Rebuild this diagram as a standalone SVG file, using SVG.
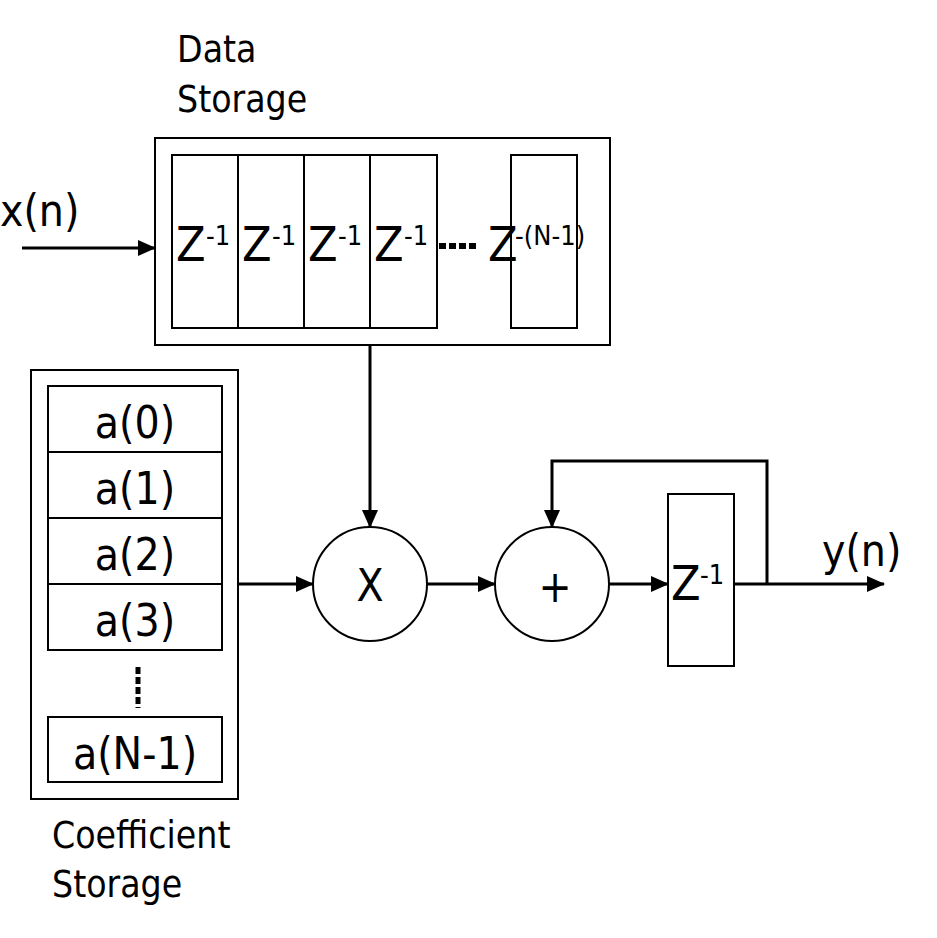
<svg xmlns="http://www.w3.org/2000/svg" width="937" height="938" viewBox="0 0 937 938">
<defs>
<style>
text{font-family:"DejaVu Sans Condensed","DejaVu Sans","Noto Sans",sans-serif;fill:#000}
.b{fill:#fff;stroke:#000;stroke-width:2}
.l{fill:none;stroke:#000;stroke-width:3}
.z{font-size:48px}
.s{font-size:27px}
.a{font-size:44px;text-anchor:middle}
.lab{font-size:37px}
</style>
<marker id="ar" markerWidth="18" markerHeight="16" refX="17" refY="8" orient="auto" markerUnits="userSpaceOnUse">
<path d="M0,0 L18,8 L0,16 Z" fill="#000"/>
</marker>
</defs>
<rect width="937" height="938" fill="#fff"/>
<g id="labels">
<text class="lab" x="177" y="62">Data</text>
<text class="lab" x="177" y="112">Storage</text>
<text class="lab" x="52" y="848">Coefficient</text>
<text class="lab" x="52" y="897">Storage</text>
<text x="0" y="226" font-size="44">x(n)</text>
<text x="822" y="566" font-size="44">y(n)</text>
</g>
<g id="data-storage">
<rect class="b" x="155" y="138" width="455" height="207"/>
<rect class="b" x="172" y="155" width="265" height="173"/>
<line x1="238" y1="155" x2="238" y2="328" stroke="#000" stroke-width="2"/>
<line x1="304" y1="155" x2="304" y2="328" stroke="#000" stroke-width="2"/>
<line x1="370" y1="155" x2="370" y2="328" stroke="#000" stroke-width="2"/>
<rect class="b" x="511" y="155" width="66" height="173"/>
<text class="z" x="176" y="261">Z</text><text class="s" x="206" y="245">-1</text>
<text class="z" x="242" y="261">Z</text><text class="s" x="272" y="245">-1</text>
<text class="z" x="308" y="261">Z</text><text class="s" x="338" y="245">-1</text>
<text class="z" x="374" y="261">Z</text><text class="s" x="404" y="245">-1</text>
<line x1="439" y1="246" x2="478" y2="246" stroke="#000" stroke-width="6" stroke-dasharray="7,3"/>
<text class="z" x="488" y="261">Z</text><text class="s" x="515" y="245">-(N-1)</text>
</g>
<g id="coef-storage">
<rect class="b" x="31" y="370" width="207" height="429"/>
<rect class="b" x="48" y="386" width="174" height="264"/>
<line x1="48" y1="452" x2="222" y2="452" stroke="#000" stroke-width="2"/>
<line x1="48" y1="518" x2="222" y2="518" stroke="#000" stroke-width="2"/>
<line x1="48" y1="584" x2="222" y2="584" stroke="#000" stroke-width="2"/>
<text class="a" x="135" y="438">a(0)</text>
<text class="a" x="135" y="504">a(1)</text>
<text class="a" x="135" y="570">a(2)</text>
<text class="a" x="135" y="636">a(3)</text>
<line x1="138" y1="667" x2="138" y2="708" stroke="#000" stroke-width="5" stroke-dasharray="7,3"/>
<rect class="b" x="48" y="717" width="174" height="65"/>
<text class="a" x="135" y="769">a(N-1)</text>
</g>
<g id="multiplier">
<circle class="b" cx="370" cy="584" r="57"/>
<text class="a" x="370" y="601">X</text>
</g>
<g id="adder">
<circle class="b" cx="552" cy="584" r="57"/>
<text class="a" x="555" y="602">+</text>
</g>
<g id="delay">
<rect class="b" x="668" y="494" width="66" height="172"/>
<text class="z" x="671" y="600" font-size="44">Z</text><text class="s" x="700" y="584" font-size="25">-1</text>
</g>
<g id="connectors">
<line class="l" x1="22" y1="248" x2="155" y2="248" marker-end="url(#ar)"/>
<line class="l" x1="370" y1="345" x2="370" y2="527" marker-end="url(#ar)"/>
<line class="l" x1="238" y1="584" x2="313" y2="584" marker-end="url(#ar)"/>
<line class="l" x1="427" y1="584" x2="495" y2="584" marker-end="url(#ar)"/>
<line class="l" x1="609" y1="584" x2="668" y2="584" marker-end="url(#ar)"/>
<line class="l" x1="734" y1="584" x2="884" y2="584" marker-end="url(#ar)"/>
<polyline class="l" points="767,584 767,461 552,461 552,527" marker-end="url(#ar)" stroke-width="2"/>
</g>
</svg>
